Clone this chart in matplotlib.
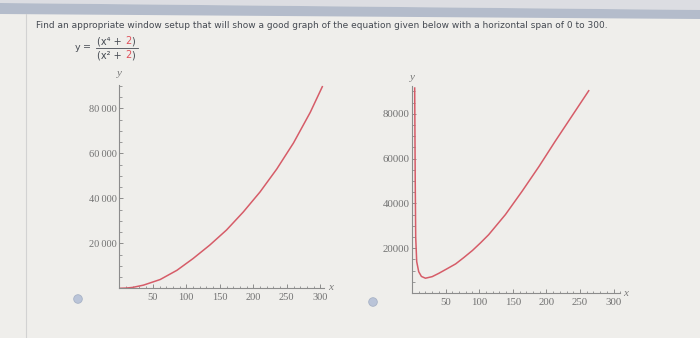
import matplotlib.pyplot as plt
from matplotlib.patches import Circle, Polygon

# question text
title = ("Find an appropriate window setup that will show a good graph of the "
         "equation given below with a horizontal span of 0 to 300.")

# left choice - curve
left_x = [0, 10, 20, 36, 61, 86, 110, 135, 160, 185, 210, 235, 260, 285, 303]
left_y = [0, 100, 400, 1400, 3900, 8000, 13200, 19200, 25900, 33900,
          42800, 53000, 64600, 78200, 89600]
left_yticks = [20000, 40000, 60000, 80000]
left_ylabels = ['20\u2009000', '40\u2009000', '60\u2009000', '80\u2009000']

# right choice
right_x = [4, 4.8, 5.5, 7, 10, 14, 20, 30, 40, 52, 65, 77, 90, 102, 114,
           139, 164, 189, 213, 238, 263]
right_y = [91500, 50000, 25000, 14000, 9500, 7400, 6600, 7300, 8800, 10800,
           13000, 15800, 19000, 22400, 26000, 35000, 45500, 56500, 67700,
           79000, 90300]
right_yticks = [20000, 40000, 60000, 80000]
right_ylabels = ['20000', '40000', '60000', '80000']

xticks = [50, 100, 150, 200, 250, 300]
xlabels = ['50', '100', '150', '200', '250', '300']

W, H = 700, 338
fig = plt.figure(figsize=(W / 100, H / 100), dpi=100)
fig.patch.set_facecolor('#efeeeb')

# pixel canvas for the page decoration
bg = fig.add_axes([0, 0, 1, 1])
bg.set_xlim(0, W)
bg.set_ylim(H, 0)
bg.axis('off')
bg.add_patch(Polygon([(0, 0), (W, 0), (W, 10), (0, 3)], closed=True,
                     color='#dcdde2', lw=0))
bg.add_patch(Polygon([(0, 3), (W, 10), (W, 19), (0, 14)], closed=True,
                     color='#b4bccb', lw=0))
bg.plot([26, 26], [14, H], color='#d2d2d2', lw=0.8)

txt = '#454a52'
bg.text(36, 25, title, fontsize=6.45, color=txt, va='center', ha='left')

# equation y = (x^4 + 2)/(x^2 + 2)
bg.text(78, 47, 'y', fontsize=6.8, color=txt, va='center', ha='center')
bg.text(87, 47, '=', fontsize=6.8, color=txt, va='center', ha='center')
for yy, sup in [(41, '\u2074'), (55, '\u00b2')]:
    t1 = bg.text(97, yy, '(x' + sup + ' + ', fontsize=7, color=txt,
                 va='center', ha='left')
    t2 = bg.annotate('2', xy=(1, 0), xycoords=t1, va='bottom', ha='left',
                     fontsize=7, color='#e0505a')
    bg.annotate(')', xy=(1, 0), xycoords=t2, va='bottom', ha='left',
                fontsize=7, color=txt)
bg.plot([96, 138], [48, 48], color=txt, lw=0.6)

# radio buttons
for cx, cy in [(78, 299), (373, 302)]:
    bg.add_patch(Circle((cx, cy), 4.3, facecolor='#bac4d8',
                        edgecolor='#a8b2c6', lw=0.6))

# axis names
lab = dict(fontsize=8, color='#7a7a7a', family='Liberation Serif',
           style='italic', ha='center', va='center')
bg.text(119, 73, 'y', **lab)
bg.text(331, 287, 'x', **lab)
bg.text(412, 77, 'y', **lab)
bg.text(626, 293, 'x', **lab)


def px_axes(x0, y0, w, h):
    # x0, y0 = origin pixel (from top-left), w/h in pixels
    return fig.add_axes([x0 / W, (H - y0) / H, w / W, h / H])


def style(ax, xmax, ymax, yticks, ylabels, fs):
    ax.set_facecolor('none')
    ax.set_xlim(0, xmax)
    ax.set_ylim(0, ymax)
    for s in ['top', 'right']:
        ax.spines[s].set_visible(False)
    for s in ['left', 'bottom']:
        ax.spines[s].set_color('#8c8c8c')
        ax.spines[s].set_linewidth(0.8)
    ax.set_xticks(xticks, xlabels)
    ax.set_xticks(list(range(10, int(xmax) + 1, 10)), minor=True)
    ax.set_yticks(yticks, ylabels)
    ax.set_yticks(list(range(5000, int(ymax) + 1, 5000)), minor=True)
    ax.tick_params(which='major', direction='in', length=3.2, width=0.7,
                   color='#8c8c8c', labelcolor='#727272', labelsize=fs)
    ax.tick_params(which='minor', direction='in', length=1.8, width=0.6,
                   color='#8c8c8c')
    ax.tick_params(axis='x', pad=3.5)
    ax.tick_params(axis='y', pad=1.5)
    for lbl in ax.get_xticklabels() + ax.get_yticklabels():
        lbl.set_family('Liberation Serif')


line_c = '#d65c68'

ax1 = px_axes(119.3, 288.3, 306 * 0.67, 90500 * 45 / 20000)
ax1.plot(left_x, left_y, color=line_c, lw=1.1)
style(ax1, 306, 90500, left_yticks, left_ylabels, 7.5)

ax2 = px_axes(412, 293, 310 * 0.672, 92500 * 44.8 / 20000)
ax2.plot(right_x, right_y, color=line_c, lw=1.1)
style(ax2, 310, 92500, right_yticks, right_ylabels, 7.8)

fig.savefig('out.png', dpi=100, facecolor=fig.get_facecolor())
